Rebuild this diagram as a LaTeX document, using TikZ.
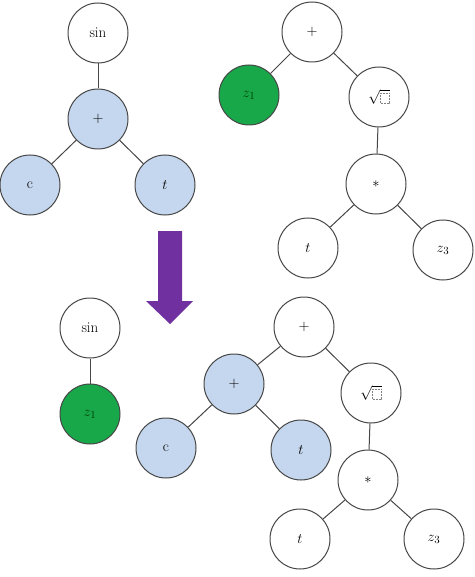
\documentclass[tikz,border=0pt]{standalone}
\usepackage{amsmath}
\usepackage{tikz}
\usetikzlibrary{shapes.geometric, positioning}
\definecolor{opblue}{RGB}{197,215,238}
\definecolor{opgreen}{RGB}{24,168,74}
\definecolor{oppurple}{RGB}{112,48,160}
\definecolor{edgegray}{RGB}{70,70,70}
\tikzstyle{term} = [circle, minimum size=60pt, inner sep=0pt, draw=edgegray, line width=1pt, fill=white, font=\fontsize{15}{18}\selectfont]
\tikzstyle{blueterm} = [term, fill=opblue]
\tikzstyle{greenterm} = [term, fill=opgreen, text=black!75!green]
\tikzstyle{link} = [draw=edgegray, line width=1pt]
\newcommand{\holder}{\tikz[baseline=0pt]\draw[densely dotted, gray, line width=0.5pt] (0,0) rectangle (9pt,10pt);}

\begin{document}
\begin{tikzpicture}[x=1pt, y=-1pt]
\useasboundingbox (0,0) rectangle (474,577);

% Left tree
\node[term] (sinA) at (98, 33) {sin};
\node[blueterm] (plusA) at (98, 119) {$+$};
\node[blueterm] (cA) at (30, 185) {c};
\node[blueterm] (tA) at (165, 185) {$t$};

% Right tree
\node[term] (plusB) at (312, 32) {$+$};
\node[greenterm] (zA) at (249, 95) {$z_1$};
\node[term] (sqrtB) at (379, 97) {$\sqrt{\holder}$};
\node[term] (mulB) at (376, 184) {$*$};
\node[term] (tB) at (308, 248) {$t$};
\node[term] (zB) at (443, 250) {$z_3$};

% Edges
\draw [link] (sinA) -- (plusA);
\draw [link] (plusA) -- (cA);
\draw [link] (plusA) -- (tA);
\draw [link] (plusB) -- (zA);
\draw [link] (plusB) -- (sqrtB);
\draw [link] (sqrtB) -- (mulB);
\draw [link] (mulB) -- (tB);
\draw [link] (mulB) -- (zB);

% Arrow
\fill [oppurple] (158, 231) -- (182, 231) -- (182, 301) -- (193, 301) -- (170, 324) -- (146, 301) -- (158, 301) -- cycle;

% Result: sin tree
\node[term] (sinC) at (90, 328) {sin};
\node[greenterm] (zC) at (90, 414) {$z_1$};
\draw [link] (sinC) -- (zC);

% Result: right tree
\node[term] (plusE) at (304, 327) {$+$};
\node[blueterm] (plusD) at (234, 384) {$+$};
\node[blueterm] (cD) at (166, 448) {c};
\node[blueterm] (tD) at (301, 450) {$t$};
\node[term] (sqrtE) at (371, 393) {$\sqrt{\holder}$};
\node[term] (mulE) at (368, 480) {$*$};
\node[term] (tE) at (300, 539) {$t$};
\node[term] (zE) at (434, 539) {$z_3$};

\draw [link] (plusE) -- (plusD);
\draw [link] (plusD) -- (cD);
\draw [link] (plusD) -- (tD);
\draw [link] (plusE) -- (sqrtE);
\draw [link] (sqrtE) -- (mulE);
\draw [link] (mulE) -- (tE);
\draw [link] (mulE) -- (zE);

\end{tikzpicture}
\end{document}
